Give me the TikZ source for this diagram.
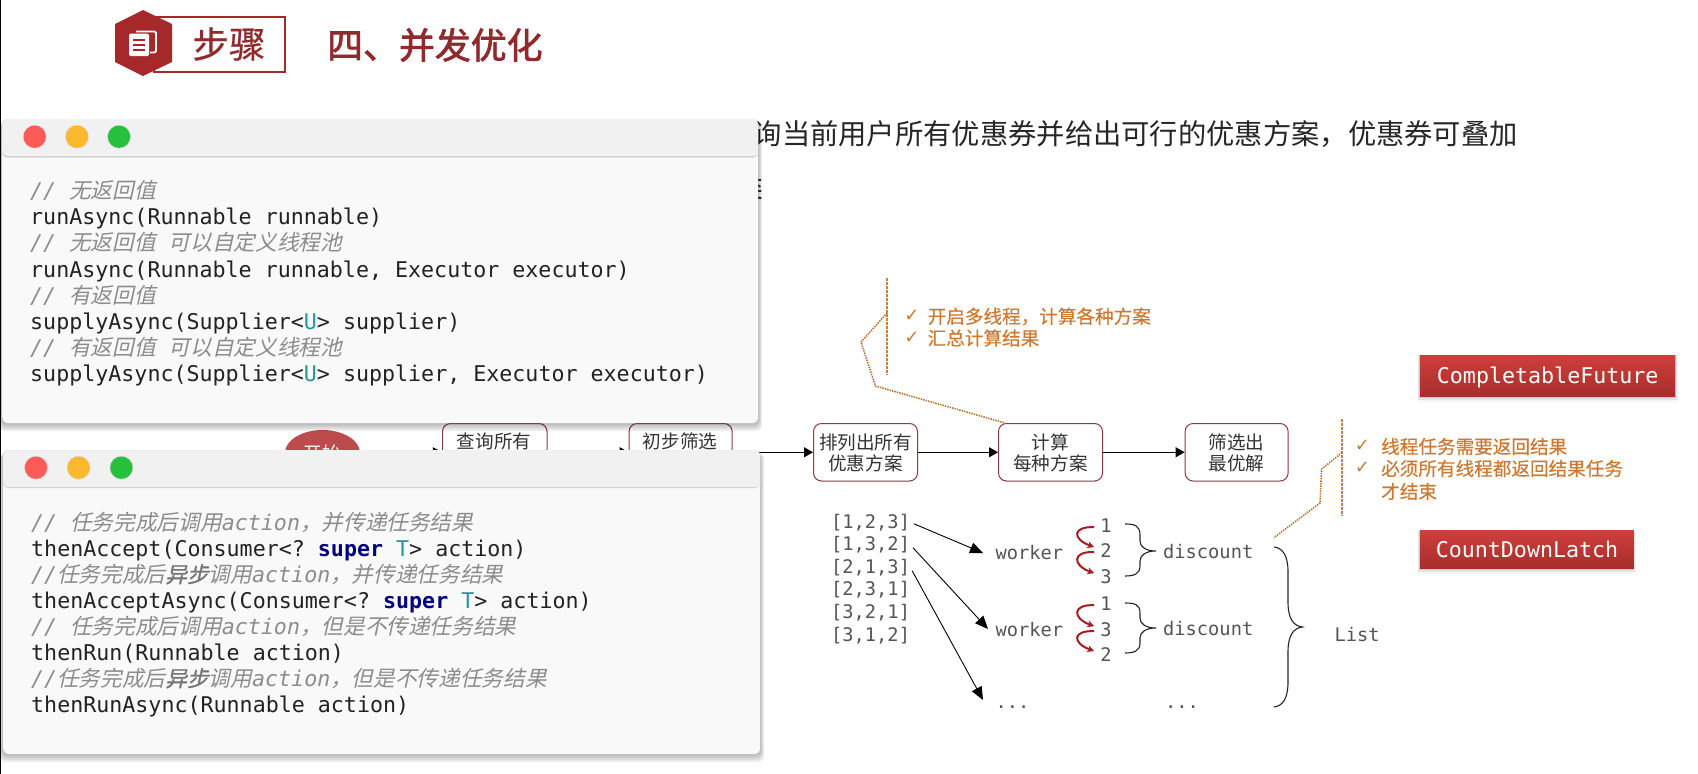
\documentclass[tikz,border=0pt]{standalone}
\usepackage{fontspec}
\usetikzlibrary{arrows.meta,calc,shapes.geometric}
\setmainfont{Noto Sans CJK SC}
\setmonofont{DejaVu Sans Mono}
\newfontfamily\cjkf{Noto Sans CJK SC}
\newfontfamily\cjkit[FakeSlant=0.22]{Noto Sans CJK SC}
\newfontfamily\cjkbi[FakeSlant=0.22,FakeBold=1.5]{Noto Sans CJK SC}
\newfontfamily\cjkbold[FakeBold=2]{Noto Sans CJK SC}
\newfontfamily\cjkmed[FakeBold=.6]{Noto Sans CJK SC}
\newfontfamily\cjklit[FakeBold=.35]{Noto Sans CJK SC}
\newfontfamily\monoit{DejaVu Sans Mono Oblique}
\newfontfamily\monob{DejaVu Sans Mono Bold}
\definecolor{brick}{HTML}{A5282A}
\definecolor{titlered}{HTML}{8F2B2D}
\definecolor{cmt}{HTML}{8C8C8C}
\definecolor{kw}{HTML}{000080}
\definecolor{typ}{HTML}{20999D}
\definecolor{codeink}{HTML}{222222}
\definecolor{winbody}{HTML}{F8F9F8}
\definecolor{winhead}{HTML}{F1F1F1}
\definecolor{orangetxt}{HTML}{CC7A33}
\definecolor{orangeline}{HTML}{C8803F}
\definecolor{dotbrown}{HTML}{B4702F}
\definecolor{flowedge}{HTML}{8A3A40}
\definecolor{startfill}{HTML}{BC4B4B}
\definecolor{graytxt}{HTML}{555555}
\definecolor{curvered}{HTML}{A31E22}
\definecolor{macred}{HTML}{FC5B57}
\definecolor{macorange}{HTML}{FDB92E}
\definecolor{macgreen}{HTML}{27C03D}
\definecolor{redtop}{HTML}{CF3E3B}
\definecolor{redbot}{HTML}{A62E2B}
\newcommand{\fs}[1]{\fontsize{#1}{#1}\selectfont}
\newcommand{\cc}[1]{{\monoit\textcolor{cmt}{#1}}}
\newcommand{\ci}[1]{{\cjkit\textcolor{cmt}{#1}}}
\newcommand{\cb}[1]{{\cjkbi\textcolor{cmt!85!black}{#1}}}
\newcommand{\ty}[1]{\textcolor{typ}{#1}}
\newcommand{\kwd}[1]{{\monob\textcolor{kw}{#1}}}
\newcommand{\winshadow}[4]{%
  \foreach \k in {8,6,...,0}{
    \fill[black,opacity=.07,rounded corners=6] (#1-\k*.5,#2) rectangle (#3+\k*.5,#4+\k);
  }}
\tikzset{
  codeline/.style={anchor=base west,inner sep=0,font=\ttfamily\fs{21.65},text=codeink},
  flowbox/.style={draw=flowedge,line width=1pt,fill=white,rounded corners=8,minimum width=104,minimum height=57.5,inner sep=0,align=center,font=\cjkf\fs{18.6},text=black!80,text depth=0},
  flowarrow/.style={-{Triangle[length=9,width=10]},line width=1.1pt,black},
  checktext/.style={anchor=west,inner sep=0,font=\cjklit\fs{18.6},text=orangetxt},
  checkmark/.style={anchor=center,inner sep=0,font=\fontspec{DejaVu Sans}\fs{18},text=orangetxt},
  redlabel/.style={anchor=center,inner sep=0,font=\ttfamily\fs{21.65},text=white},
  dash1/.style={orangeline,line width=1.6pt,dash pattern=on 3pt off 1pt},
  dot1/.style={dotbrown,line width=1.6pt,dash pattern=on 1.4pt off 1.1pt},
  graymono/.style={inner sep=0,font=\ttfamily\fs{18.7},text=graytxt},
  thinarrow/.style={-{Triangle[length=13,width=11]},line width=.9pt,black},
  curly/.style={line width=1.1pt,black!85},
  redcurve/.style={curvered,line width=2pt,-{Stealth[length=7,width=7]}},
  macdot/.style={circle,draw=black!15,minimum size=23,inner sep=0}
}
\begin{document}
\begin{tikzpicture}[x=1pt,y=-1pt]
\useasboundingbox (0,0) rectangle (1698,774);
\fill[white] (0,0) rectangle (1698,774);
\draw[black,line width=1.4pt] (0.6,0) -- (0.6,774);

% header
\node[draw=brick,line width=1.8pt,minimum width=131,minimum height=54.5,inner sep=0,anchor=north west,fill=white] (tag) at (153,16.2) {};
\node[inner sep=0,font=\cjkmed\fs{36.5},text=titlered] (tagtext) at (229,44) {步骤};
\fill[brick] (143,10) -- (172,24) -- (172,62) -- (143,76) -- (115,62) -- (115,24) -- cycle;
\draw[white,line width=1.8pt,rounded corners=1.5] (136,31.5) -- (156,31.5) -- (156,52.5) -- (150,52.5);
\fill[white,rounded corners=1.5] (129,33.5) rectangle (149,56);
\draw[brick,line width=1.4pt] (133,40) -- (145,40) (133,45) -- (145,45) (133,50) -- (145,50);
\node[anchor=west,inner sep=0,font=\cjkbold\fs{35.9},text=titlered] (title) at (327,45) {四、并发优化};

% text behind the windows
\node[anchor=east,inner sep=0,font=\cjkf\fs{28.3},text=black!85] (bgtext) at (1518,134) {询当前用户所有优惠券并给出可行的优惠方案，优惠券可叠加};
\node[anchor=center,inner sep=0,font=\cjkf\fs{28},text=black!85] (bgtext2) at (749,187) {类};

% flow
\node[ellipse,fill=startfill,minimum width=75,minimum height=46,inner sep=0,font=\cjkf\fs{18.6},text=white] (start) at (322.5,453) {开始};
\node[flowbox,anchor=north west,minimum width=104.5] (q) at (442,423) {};
\node[inner sep=0,font=\cjkf\fs{18.6},text=black!80] (qt) at (494,441) {查询所有};
\node[flowbox,anchor=north west,minimum width=103] (f) at (628.6,423) {};
\node[inner sep=0,font=\cjkf\fs{18.6},text=black!80] (ft) at (680,441) {初步筛选};
\node[flowbox,anchor=north west] (pa) at (813,423) {排列出所有\\[3pt]优惠方案};
\node[flowbox,anchor=north west] (ca) at (998,423) {计算\\[3pt]每种方案};
\node[flowbox,anchor=north west,minimum width=103] (sx) at (1184.6,423) {筛选出\\[3pt]最优解};
\draw[flowarrow] (start.east) -- (q.west);
\draw[flowarrow] (q.east) -- (f.west);
\draw[flowarrow] (f.east) -- (pa.west);
\draw[flowarrow] (pa.east) -- (ca.west);
\draw[flowarrow] (ca.east) -- (sx.west);

% upper note
\coordinate (b1) at (887,278); \coordinate (b2) at (887,375);
\draw[dash1] (b1) -- (b2);
\coordinate (n1) at (887,313);
\draw[dot1] (n1) -- (861,342) -- (875.4,386) -- ($(ca.north west)+(7,0)$);
\node[checkmark] (c1) at (912,316) {✓};
\node[checkmark] (c2) at (912,338) {✓};
\node[checktext] (t1) at (927.5,316.5) {开启多线程，计算各种方案};
\node[checktext] (t2) at (927.5,338) {汇总计算结果};

% right note
\coordinate (b3) at (1342,419); \coordinate (b4) at (1342,516);
\draw[dash1] (b3) -- (b4);
\coordinate (n2) at (1342,452.7); \coordinate (n3) at (1273.8,537.7);
\draw[dot1] (n2) -- (1321.6,469) -- (1320,503) -- (n3);
\node[checkmark] (c3) at (1362.5,446) {✓};
\node[checkmark] (c4) at (1362.5,468) {✓};
\node[checktext] (t3) at (1381,446.5) {线程任务需要返回结果};
\node[checktext] (t4) at (1381,468.5) {必须所有线程都返回结果任务};
\node[checktext] (t5) at (1381,491.5) {才结束};

% red labels
\foreach \a/\b in {2.5/.04,1.7/.07,.8/.1}{
  \fill[black,opacity=\b] (1420-\a,355) rectangle (1675+\a,396.7+\a*2);
  \fill[black,opacity=\b] (1420-\a,530.7) rectangle (1633.6+\a,568.6+\a*2);
}
\node[rectangle,top color=redtop,bottom color=redbot,minimum width=255,minimum height=41.7,inner sep=0,anchor=north west] (cfbox) at (1420,355) {};
\node[redlabel] (cf) at ($(cfbox.center)+(0,1.5)$) {CompletableFuture};
\node[rectangle,top color=redtop,bottom color=redbot,minimum width=213.6,minimum height=37.9,inner sep=0,anchor=north west] (cdbox) at (1420,530.7) {};
\node[redlabel] (cd) at ($(cdbox.center)+(0,0)$) {CountDownLatch};

% permutations
\node[graymono,anchor=base west] (p1) at (831,528) {[1,2,3]};
\node[graymono,anchor=base west] (p2) at (831,550.5) {[1,3,2]};
\node[graymono,anchor=base west] (p3) at (831,573) {[2,1,3]};
\node[graymono,anchor=base west] (p4) at (831,595.5) {[2,3,1]};
\node[graymono,anchor=base west] (p5) at (831,618) {[3,2,1]};
\node[graymono,anchor=base west] (p6) at (831,641) {[3,1,2]};
\node[graymono,anchor=base west] (w1) at (995.5,559.5) {worker};
\node[graymono,anchor=base west] (w2) at (995.5,636.5) {worker};
\node[graymono,anchor=base west] (w3) at (995.5,708) {...};
\foreach \n/\t/\y in {a1/1/532,a2/2/557,a3/3/583,b1n/1/610,b2n/3/636,b3n/2/661}{
  \node[graymono,anchor=base] (\n) at (1106,\y) {\t};
}
\node[graymono,anchor=base west] (d1) at (1163,558.5) {discount};
\node[graymono,anchor=base west] (d2) at (1163,635) {discount};
\node[graymono,anchor=base west] (d3) at (1165,708) {...};
\node[graymono,anchor=base west] (lst) at (1334.5,641) {List};

\coordinate (t1a) at (983,553); \coordinate (t2a) at (988,629); \coordinate (t3a) at (983,700);
\draw[thinarrow,shorten <=4] (p1.east) -- (t1a);
\draw[thinarrow,shorten <=4] (p2.east) -- (t2a);
\draw[thinarrow,shorten <=4] (p3.east) -- (t3a);

% red curved hops
\foreach \p/\q in {a1/a2,a2/a3,b1n/b2n,b2n/b3n}{
  \draw[redcurve] ($(\p.west)+(-6,2)$) .. controls +(-22,-1) and +(-22,-8) .. ($(\q.west)+(-6,-3)$);
}

% braces
\coordinate (k1) at (1125,524); \coordinate (k2) at (1125,576); \coordinate (k3) at (1125,603); \coordinate (k4) at (1125,653);
\draw[curly] (k1) .. controls (1134,524) and (1140,525) .. (1140,535) -- (1140,541) .. controls (1140,547) and (1146,551) .. (1156,551)
  .. controls (1146,551) and (1140,555) .. (1140,561) -- (1140,566) .. controls (1140,574) and (1134,576) .. (k2);
\draw[curly] (k3) .. controls (1134,603) and (1140,604) .. (1140,613) -- (1140,618) .. controls (1140,624) and (1146,628) .. (1156,628)
  .. controls (1146,628) and (1140,632) .. (1140,638) -- (1140,643) .. controls (1140,651) and (1134,653) .. (k4);
\coordinate (k5) at (1274,547); \coordinate (k6) at (1274,707);
\draw[curly] (k5) .. controls (1283,548) and (1288,556) .. (1288,572) -- (1288,602) .. controls (1288,618) and (1293,626) .. (1302.5,627)
  .. controls (1293,628) and (1288,636) .. (1288,652) -- (1288,682) .. controls (1288,698) and (1283,706) .. (k6);

% window 1
\winshadow{2}{122}{758}{423}
\node[rounded corners=6,fill=winbody,minimum width=756,minimum height=304,inner sep=0,anchor=north west] (win1) at (2,119) {};
\fill[black!18,rounded corners=5] (2,119) rectangle (758,157.5);
\node[rounded corners=5,fill=winhead,minimum width=756,minimum height=37,inner sep=0,anchor=north west] (head1) at (2,119) {};
\node[macdot,fill=macred] (r1) at (34.7,136.7) {};
\node[macdot,fill=macorange] (o1) at (77,136.7) {};
\node[macdot,fill=macgreen] (g1) at (119,136.7) {};
\node[codeline] (l11) at (30,198.5) {\cc{// }\ci{无返回值}};
\node[codeline] (l12) at (30,224.5) {runAsync(Runnable runnable)};
\node[codeline] (l13) at (30,250.5) {\cc{// }\ci{无返回值}\hspace*{13pt}\ci{可以自定义线程池}};
\node[codeline] (l14) at (30,277) {runAsync(Runnable runnable, Executor executor)};
\node[codeline] (l15) at (30,303) {\cc{// }\ci{有返回值}};
\node[codeline] (l16) at (30,329.5) {supplyAsync(Supplier<\ty{U}> supplier)};
\node[codeline] (l17) at (30,355.5) {\cc{// }\ci{有返回值}\hspace*{13pt}\ci{可以自定义线程池}};
\node[codeline] (l18) at (30,381.5) {supplyAsync(Supplier<\ty{U}> supplier, Executor executor)};

% window 2
\winshadow{3}{453}{760}{754}
\node[rounded corners=6,fill=winbody,minimum width=757,minimum height=304,inner sep=0,anchor=north west] (win2) at (3,450) {};
\fill[black!18,rounded corners=5] (3,450) rectangle (760,488);
\node[rounded corners=5,fill=winhead,minimum width=757,minimum height=37,inner sep=0,anchor=north west] (head2) at (3,450) {};
\node[macdot,fill=macred] (r2) at (36,467.7) {};
\node[macdot,fill=macorange] (o2) at (78.6,467.7) {};
\node[macdot,fill=macgreen] (g2) at (121.4,467.7) {};
\node[codeline] (l21) at (31,530.5) {\cc{// }\ci{任务完成后调用}\cc{action}\ci{，并传递任务结果}};
\node[codeline] (l22) at (31,556.5) {thenAccept(Consumer<? \kwd{super} \ty{T}> action)};
\node[codeline] (l23) at (31,582.5) {\cc{//}\ci{任务完成后}\cb{异步}\ci{调用}\cc{action}\ci{，并传递任务结果}};
\node[codeline] (l24) at (31,608) {thenAcceptAsync(Consumer<? \kwd{super} \ty{T}> action)};
\node[codeline] (l25) at (31,634.5) {\cc{// }\ci{任务完成后调用}\cc{action}\ci{，但是不传递任务结果}};
\node[codeline] (l26) at (31,660) {thenRun(Runnable action)};
\node[codeline] (l27) at (31,686.5) {\cc{//}\ci{任务完成后}\cb{异步}\ci{调用}\cc{action}\ci{，但是不传递任务结果}};
\node[codeline] (l28) at (31,712.5) {thenRunAsync(Runnable action)};
\end{tikzpicture}
\end{document}
